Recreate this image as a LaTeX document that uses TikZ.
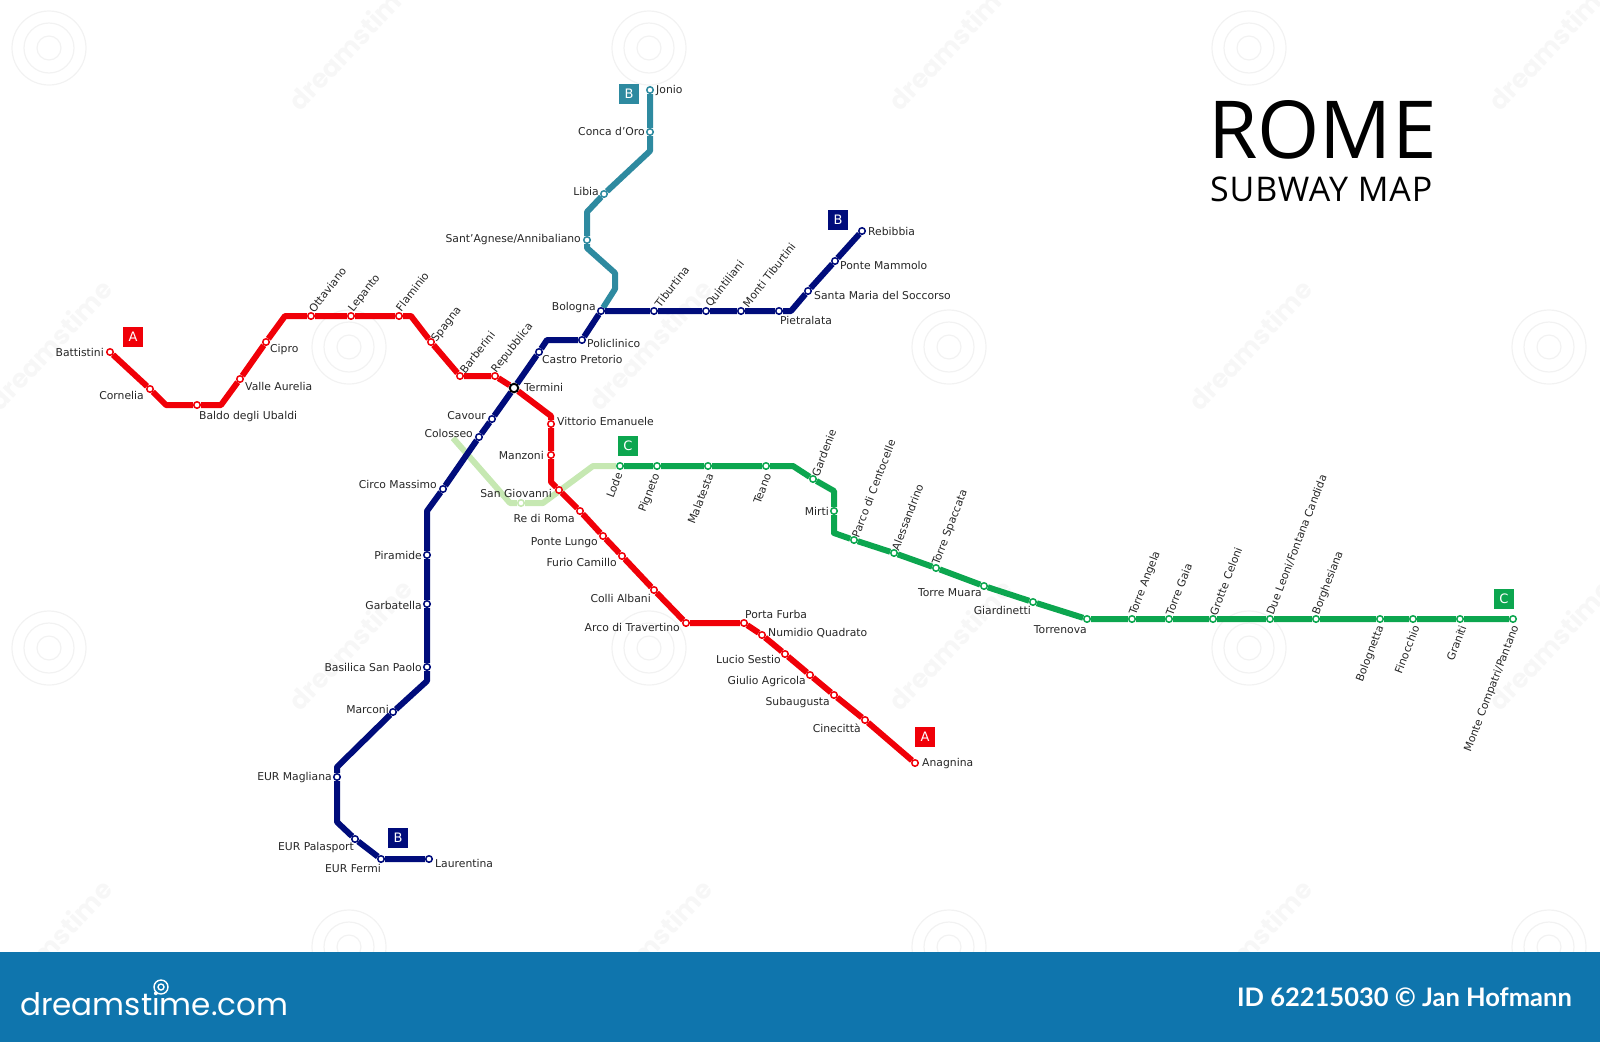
\documentclass[tikz,border=0pt]{standalone}
\usepackage{fontspec}
\usetikzlibrary{backgrounds}
\setmainfont{DejaVu Sans}
\newfontfamily\titlefont{Open Sans}
\newfontfamily\footfont{Lato}
\newfontfamily\brandfont{Poppins}
\definecolor{lineA}{HTML}{F00008}
\definecolor{lineB}{HTML}{000C7B}
\definecolor{lineBone}{HTML}{2E8AA0}
\definecolor{lineC}{HTML}{0CA64F}
\definecolor{lineClight}{HTML}{C6E8B2}
\definecolor{footbar}{HTML}{0F75AD}
\tikzset{
  stopA/.style={circle,draw=lineA,fill=white,line width=1.5pt,minimum size=6.5pt,inner sep=0pt},
  stopB/.style={stopA,draw=lineB},
  stopBone/.style={stopA,draw=lineBone},
  stopC/.style={stopA,draw=lineC},
  stopClight/.style={stopA,draw=lineClight},
  hub/.style={stopA,draw=black,line width=2pt,minimum size=8.5pt},
  lbl/.style={font=\fontsize{10.8}{12}\selectfont,text=black!85,inner sep=0pt,yshift=-0.8pt},
  lblL/.style={lbl,anchor=east},
  lblR/.style={lbl,anchor=west},
  lblUp/.style={lbl,anchor=west,rotate=52},
  lblC/.style={lbl,anchor=west,rotate=69},
  lblD/.style={lbl,anchor=east,rotate=69},
  badge/.style={minimum size=20pt,inner sep=0pt,text=white,font=\fontsize{13}{13}\selectfont},
  track/.style={line width=6pt,line join=round},
  wmark/.style={draw=black!5,line width=1.2pt},
  wtext/.style={text=black!3,rotate=47,inner sep=0pt,font=\brandfont\bfseries\fontsize{26}{26}\selectfont}
}
\begin{document}
\begin{tikzpicture}[x=1pt,y=-1pt]
\useasboundingbox (0,0) rectangle (1600,1042);

\node[anchor=base west,inner sep=0pt,font=\titlefont\fontsize{80}{80}\selectfont] (title) at (1208,158) {ROME};
\node[anchor=base west,inner sep=0pt,font=\titlefont\fontsize{34}{34}\selectfont\addfontfeatures{LetterSpace=2.5}] (subtitle) at (1210,201) {SUBWAY MAP};

\node[badge,fill=lineBone] (badgeBone) at (629,94) {B};
\node[badge,fill=lineB] (badgeBtop) at (838,220) {B};
\node[badge,fill=lineB] (badgeBlow) at (398,838) {B};
\node[badge,fill=lineA] (badgeAtop) at (133,337) {A};
\node[badge,fill=lineA] (badgeAlow) at (925,737) {A};
\node[badge,fill=lineC] (badgeCleft) at (628,446) {C};
\node[badge,fill=lineC] (badgeCright) at (1504,599) {C};

\node[stopBone] (jonio) at (650,90) {};
\node[stopBone] (concadoro) at (650,132) {};
\node[stopBone] (libia) at (604,194) {};
\node[stopBone] (santagnese) at (587,240) {};
\coordinate (oneA) at (650,151);
\coordinate (oneB) at (587,212);
\coordinate (oneC) at (587,248);
\coordinate (oneD) at (615,273);
\coordinate (oneE) at (615,289);
\node[lblR] (jonioT) at (656,90) {Jonio};
\node[lblL] (concadoroT) at (645,131) {Conca d\symbol{39}Oro};
\node[lblL] (libiaT) at (599,191) {Libia};
\node[lblL] (santagneseT) at (581,239) {Sant\symbol{39}Agnese/Annibaliano};

\node[stopB] (rebibbia) at (862,231) {};
\node[stopB] (pontemammolo) at (835,261) {};
\node[stopB] (santamaria) at (808,291) {};
\node[stopB] (pietralata) at (779,311) {};
\node[stopB] (monti) at (741,311) {};
\node[stopB] (quintiliani) at (706,311) {};
\node[stopB] (tiburtina) at (654,311) {};
\node[stopB] (bologna) at (601,311) {};
\node[stopB] (policlinico) at (582,340) {};
\node[stopB] (castro) at (539,352) {};
\node[stopB] (cavour) at (492,419) {};
\node[stopB] (colosseo) at (479,437) {};
\node[stopB] (circo) at (443,489) {};
\node[stopB] (piramide) at (427,555) {};
\node[stopB] (garbatella) at (427,604) {};
\node[stopB] (basilica) at (427,667) {};
\node[stopB] (marconi) at (393,712) {};
\node[stopB] (magliana) at (337,777) {};
\node[stopB] (palasport) at (355,839) {};
\node[stopB] (fermi) at (381,859) {};
\node[stopB] (laurentina) at (429,859) {};
\coordinate (blueA) at (791,311);
\coordinate (blueB) at (547,340);
\coordinate (blueC) at (427,511);
\coordinate (blueD) at (427,681);
\coordinate (blueE) at (337,767);
\coordinate (blueF) at (337,822);
\node[lblR] (rebibbiaT) at (868,231) {Rebibbia};
\node[lblR] (pontemammoloT) at (840,265) {Ponte Mammolo};
\node[lblR] (santamariaT) at (814,295) {Santa Maria del Soccorso};
\node[lblR] (pietralataT) at (780,320) {Pietralata};
\node[lblUp] (montiT) at (745,305) {Monti Tiburtini};
\node[lblUp] (quintilianiT) at (708,305) {Quintiliani};
\node[lblUp] (tiburtinaT) at (657,305) {Tiburtina};
\node[lblL] (bolognaT) at (596,307) {Bologna};
\node[lblR] (policlinicoT) at (587,343) {Policlinico};
\node[lblR] (castroT) at (542,359) {Castro Pretorio};
\node[lblL] (cavourT) at (486,415) {Cavour};
\node[lblL] (colosseoT) at (473,433) {Colosseo};
\node[lblL] (circoT) at (437,484) {Circo Massimo};
\node[lblL] (piramideT) at (422,555) {Piramide};
\node[lblL] (garbatellaT) at (422,605) {Garbatella};
\node[lblL] (basilicaT) at (422,667) {Basilica San Paolo};
\node[lblL] (marconiT) at (389,709) {Marconi};
\node[lblL] (maglianaT) at (332,777) {EUR Magliana};
\node[lblL] (palasportT) at (354,847) {EUR Palasport};
\node[lblL] (fermiT) at (381,868) {EUR Fermi};
\node[lblR] (laurentinaT) at (435,863) {Laurentina};

\node[stopA] (battistini) at (110,352) {};
\node[stopA] (cornelia) at (150,389) {};
\node[stopA] (baldo) at (197,405) {};
\node[stopA] (valle) at (240,379) {};
\node[stopA] (cipro) at (266,342) {};
\node[stopA] (ottaviano) at (311,316) {};
\node[stopA] (lepanto) at (351,316) {};
\node[stopA] (flaminio) at (399,316) {};
\node[stopA] (spagna) at (431,342) {};
\node[stopA] (barberini) at (460,376) {};
\node[stopA] (repubblica) at (495,376) {};
\node[stopA] (vittorio) at (551,424) {};
\node[stopA] (manzoni) at (551,455) {};
\node[stopA] (giovanni) at (559,490) {};
\node[stopA] (reroma) at (580,511) {};
\node[stopA] (pontelungo) at (603,536) {};
\node[stopA] (furio) at (622,556) {};
\node[stopA] (colli) at (654,590) {};
\node[stopA] (arco) at (686,623) {};
\node[stopA] (furba) at (744,623) {};
\node[stopA] (numidio) at (762,635) {};
\node[stopA] (lucio) at (785,654) {};
\node[stopA] (giulio) at (810,675) {};
\node[stopA] (subaugusta) at (834,695) {};
\node[stopA] (cinecitta) at (865,720) {};
\node[stopA] (anagnina) at (915,763) {};
\coordinate (redA) at (166,405);
\coordinate (redB) at (221,405);
\coordinate (redC) at (285,316);
\coordinate (redD) at (411,316);
\coordinate (redE) at (551,416);
\coordinate (redF) at (551,482);
\node[lblL] (battistiniT) at (104,352) {Battistini};
\node[lblL] (corneliaT) at (144,395) {Cornelia};
\node[lblR] (baldoT) at (199,416) {Baldo degli Ubaldi};
\node[lblR] (valleT) at (245,386) {Valle Aurelia};
\node[lblR] (ciproT) at (270,349) {Cipro};
\node[lblUp] (ottavianoT) at (311,310) {Ottaviano};
\node[lblUp] (lepantoT) at (351,310) {Lepanto};
\node[lblUp] (flaminioT) at (398,309) {Flaminio};
\node[lblUp] (spagnaT) at (434,340) {Spagna};
\node[lblUp] (barberiniT) at (462,371) {Barberini};
\node[lblUp] (repubblicaT) at (494,371) {Repubblica};
\node[lblR] (vittorioT) at (557,421) {Vittorio Emanuele};
\node[lblL] (manzoniT) at (544,455) {Manzoni};
\node[lblL] (giovanniT) at (552,493) {San Giovanni};
\node[lblL] (reromaT) at (575,518) {Re di Roma};
\node[lblL] (pontelungoT) at (598,542) {Ponte Lungo};
\node[lblL] (furioT) at (617,562) {Furio Camillo};
\node[lblL] (colliT) at (651,598) {Colli Albani};
\node[lblL] (arcoT) at (680,627) {Arco di Travertino};
\node[lblR] (furbaT) at (745,614) {Porta Furba};
\node[lblR] (numidioT) at (768,632) {Numidio Quadrato};
\node[lblL] (lucioT) at (781,659) {Lucio Sestio};
\node[lblL] (giulioT) at (806,681) {Giulio Agricola};
\node[lblL] (subaugustaT) at (830,702) {Subaugusta};
\node[lblL] (cinecittaT) at (861,727) {Cinecittà};
\node[lblR] (anagninaT) at (922,763) {Anagnina};

\node[hub] (termini) at (514,388) {};
\node[lblR] (terminiT) at (524,387) {Termini};

\node[stopClight] (rearoma) at (521,503) {};
\coordinate (paleA) at (453,438);
\coordinate (paleB) at (510,503);
\coordinate (paleC) at (543,503);
\coordinate (paleD) at (593,466);

\node[stopC] (lode) at (620,466) {};
\node[stopC] (pigneto) at (657,466) {};
\node[stopC] (malatesta) at (708,466) {};
\node[stopC] (teano) at (766,466) {};
\node[stopC] (gardenie) at (813,479) {};
\node[stopC] (mirti) at (834,511) {};
\node[stopC] (parco) at (854,540) {};
\node[stopC] (alessandrino) at (894,553) {};
\node[stopC] (spaccata) at (936,568) {};
\node[stopC] (muara) at (984,586) {};
\node[stopC] (giardinetti) at (1033,602) {};
\node[stopC] (torrenova) at (1087,619) {};
\node[stopC] (angela) at (1132,619) {};
\node[stopC] (gaia) at (1169,619) {};
\node[stopC] (celoni) at (1213,619) {};
\node[stopC] (leoni) at (1270,619) {};
\node[stopC] (borghesiana) at (1316,619) {};
\node[stopC] (bolognetta) at (1380,619) {};
\node[stopC] (finocchio) at (1413,619) {};
\node[stopC] (graniti) at (1460,619) {};
\node[stopC] (compatri) at (1513,619) {};
\coordinate (greenA) at (793,466);
\coordinate (greenB) at (834,491);
\coordinate (greenC) at (834,533);
\node[lblD] (lodeT) at (619,472) {Lode};
\node[lblD] (pignetoT) at (657,473) {Pigneto};
\node[lblD] (malatestaT) at (710,473) {Malatesta};
\node[lblD] (teanoT) at (768,473) {Teano};
\node[lblC] (gardenieT) at (815,475) {Gardenie};
\node[lblL] (mirtiT) at (829,511) {Mirti};
\node[lblC] (parcoT) at (855,536) {Parco di Centocelle};
\node[lblC] (alessandrinoT) at (895,549) {Alessandrino};
\node[lblC] (spaccataT) at (936,564) {Torre Spaccata};
\node[lblL] (muaraT) at (982,592) {Torre Muara};
\node[lblL] (giardinettiT) at (1031,610) {Giardinetti};
\node[lblL] (torrenovaT) at (1087,629) {Torrenova};
\node[lblC] (angelaT) at (1133,614) {Torre Angela};
\node[lblC] (gaiaT) at (1169,614) {Torre Gaia};
\node[lblC] (celoniT) at (1213,614) {Grotte Celoni};
\node[lblC] (leoniT) at (1270,614) {Due Leoni/Fontana Candida};
\node[lblC] (borghesianaT) at (1316,614) {Borghesiana};
\node[lblD] (bolognettaT) at (1381,625) {Bolognetta};
\node[lblD] (finocchioT) at (1416,625) {Finocchio};
\node[lblD] (granitiT) at (1463,625) {Graniti};
\node[lblD] (compatriT) at (1516,625) {Monte Compatri/Pantano};

\begin{pgfonlayer}{background}
\draw[wmark] (49,48) circle (37pt) circle (25pt) circle (12pt);
\draw[wmark] (649,48) circle (37pt) circle (25pt) circle (12pt);
\draw[wmark] (1249,48) circle (37pt) circle (25pt) circle (12pt);
\draw[wmark] (349,347) circle (37pt) circle (25pt) circle (12pt);
\draw[wmark] (949,347) circle (37pt) circle (25pt) circle (12pt);
\draw[wmark] (1549,347) circle (37pt) circle (25pt) circle (12pt);
\draw[wmark] (49,648) circle (37pt) circle (25pt) circle (12pt);
\draw[wmark] (649,648) circle (37pt) circle (25pt) circle (12pt);
\draw[wmark] (1249,648) circle (37pt) circle (25pt) circle (12pt);
\draw[wmark] (349,947) circle (37pt) circle (25pt) circle (12pt);
\draw[wmark] (949,947) circle (37pt) circle (25pt) circle (12pt);
\draw[wmark] (1549,947) circle (37pt) circle (25pt) circle (12pt);
\node[wtext] (markA) at (350,45) {dreamstime};
\node[wtext] (markB) at (950,45) {dreamstime};
\node[wtext] (markC) at (1550,45) {dreamstime};
\node[wtext] (markD) at (50,345) {dreamstime};
\node[wtext] (markE) at (650,345) {dreamstime};
\node[wtext] (markF) at (1250,345) {dreamstime};
\node[wtext] (markG) at (350,645) {dreamstime};
\node[wtext] (markH) at (950,645) {dreamstime};
\node[wtext] (markI) at (1550,645) {dreamstime};
\node[wtext] (markJ) at (50,945) {dreamstime};
\node[wtext] (markK) at (650,945) {dreamstime};
\node[wtext] (markL) at (1250,945) {dreamstime};
\draw[track,lineClight] (paleA) -- (paleB) -- (rearoma) -- (paleC) -- (paleD) -- (lode);
\draw[track,lineBone] (jonio) -- (concadoro) -- (oneA) -- (libia) -- (oneB) -- (santagnese) -- (oneC) -- (oneD) -- (oneE) -- (bologna);
\draw[track,lineB] (rebibbia) -- (pontemammolo) -- (santamaria) -- (blueA) -- (pietralata) -- (monti) -- (quintiliani) -- (tiburtina) -- (bologna) -- (policlinico) -- (blueB) -- (castro) -- (termini) -- (cavour) -- (colosseo) -- (circo) -- (blueC) -- (piramide) -- (garbatella) -- (basilica) -- (blueD) -- (marconi) -- (blueE) -- (magliana) -- (blueF) -- (palasport) -- (fermi) -- (laurentina);
\draw[track,lineA] (battistini) -- (cornelia) -- (redA) -- (baldo) -- (redB) -- (valle) -- (cipro) -- (redC) -- (ottaviano) -- (lepanto) -- (flaminio) -- (redD) -- (spagna) -- (barberini) -- (repubblica) -- (termini) -- (redE) -- (vittorio) -- (manzoni) -- (redF) -- (giovanni) -- (reroma) -- (pontelungo) -- (furio) -- (colli) -- (arco) -- (furba) -- (numidio) -- (lucio) -- (giulio) -- (subaugusta) -- (cinecitta) -- (anagnina);
\draw[track,lineC] (lode) -- (pigneto) -- (malatesta) -- (teano) -- (greenA) -- (gardenie) -- (greenB) -- (mirti) -- (greenC) -- (parco) -- (alessandrino) -- (spaccata) -- (muara) -- (giardinetti) -- (torrenova) -- (angela) -- (gaia) -- (celoni) -- (leoni) -- (borghesiana) -- (bolognetta) -- (finocchio) -- (graniti) -- (compatri);
\end{pgfonlayer}

\fill[footbar] (0,952) rectangle (1600,1042);
\node[anchor=base west,inner sep=0pt,text=white,font=\brandfont\fontsize{31}{31}\selectfont] (brand) at (20,1015) {dreamstime.com};
\draw[white,line width=1.4pt] (161,987) circle (7pt) circle (3pt);
\node[anchor=base east,inner sep=0pt,text=white,font=\footfont\bfseries\fontsize{25.5}{25.5}\selectfont] (credit) at (1572,1006) {ID 62215030 © Jan Hofmann};
\end{tikzpicture}
\end{document}
